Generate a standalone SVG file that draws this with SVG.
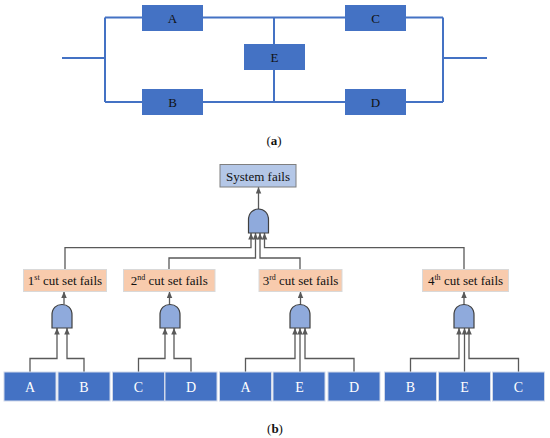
<svg xmlns="http://www.w3.org/2000/svg" width="550" height="438" viewBox="0 0 550 438">
<style>
text{font-family:"Liberation Serif","Times New Roman",serif;}
.blk{fill:#4472C4;}
.wire{fill:none;stroke:#4472C4;stroke-width:2;}
.lbl{font-size:13px;fill:#111;text-anchor:middle;}
.cut{fill:#F8CBAD;stroke:#D9D9D9;stroke-width:1;}
.sys{fill:#B4C7E7;stroke:#7F7F7F;stroke-width:1;}
.gate{fill:#8FAADC;stroke:#404040;stroke-width:1.2;}
.ev{fill:#4472C4;stroke:#D0D8EA;stroke-width:1;}
.evt{font-size:14px;fill:#fff;text-anchor:middle;}
.ln{fill:none;stroke:#595959;stroke-width:1.3;}
.arr{marker-end:url(#ah);}
.cap{font-size:13px;fill:#111;text-anchor:middle;}
</style>
<defs>
<marker id="ah" markerWidth="7" markerHeight="6" refX="6.5" refY="2.75" orient="auto" markerUnits="userSpaceOnUse">
<path d="M0,0 L6.5,2.75 L0,5.5 z" fill="#595959"/>
</marker>
</defs>

<g id="network-a">
<g id="wires-a">
<path class="wire" d="M62,58 H105 M105,17.5 V102 M105,17.5 H142 M203,17.5 H345 M406,17.5 H443 M105,102 H142 M203,102 H345 M406,102 H443 M274,17.5 V44 M274,70 V102 M443,17.5 V102 M443,58 H487"/>
</g>
<g id="a-A"><rect class="blk" x="142" y="5" width="61" height="26"/><text class="lbl" x="172.5" y="22.5">A</text></g>
<g id="a-C"><rect class="blk" x="345" y="5" width="61" height="26"/><text class="lbl" x="375.5" y="22.5">C</text></g>
<g id="a-E"><rect class="blk" x="244" y="44" width="61" height="26"/><text class="lbl" x="274.5" y="61.5">E</text></g>
<g id="a-B"><rect class="blk" x="142" y="89" width="61" height="26"/><text class="lbl" x="172.5" y="106.5">B</text></g>
<g id="a-D"><rect class="blk" x="345" y="89" width="61" height="26"/><text class="lbl" x="375.5" y="106.5">D</text></g>
<text class="cap" x="274" y="144.5">(<tspan font-weight="bold">a</tspan>)</text>
</g>

<g id="connectors">
<path class="ln arr" d="M258.5,209 V187"/>
<path class="ln arr" d="M65,269.5 V247.7 H251 V233"/>
<path class="ln arr" d="M169,269.5 V258 H255.5 V233"/>
<path class="ln arr" d="M300,269.5 V258 H260 V233"/>
<path class="ln arr" d="M464,269.5 V247.7 H264.5 V233"/>

<path class="ln arr" d="M64,304.5 V291.5"/>
<path class="ln arr" d="M169.5,304.5 V291.5"/>
<path class="ln arr" d="M300.5,304.5 V291.5"/>
<path class="ln arr" d="M464,304.5 V291.5"/>

<path class="ln arr" d="M30,372 V358.5 H57 V328"/>
<path class="ln arr" d="M84,372 V358.5 H67 V328"/>
<path class="ln arr" d="M138.5,372 V358.5 H165 V328"/>
<path class="ln arr" d="M191,372 V358.5 H174 V328"/>
<path class="ln arr" d="M245.5,372 V358.5 H295 V328"/>
<path class="ln arr" d="M300,372 V328"/>
<path class="ln arr" d="M354,372 V358.5 H305 V328"/>
<path class="ln arr" d="M410.5,372 V358.5 H459 V328"/>
<path class="ln arr" d="M464.5,372 V328"/>
<path class="ln arr" d="M518.5,372 V358.5 H469 V328"/>
</g>

<g id="system-fails"><rect class="sys" x="220" y="164.5" width="76" height="22.5"/><text class="lbl" x="258" y="180.5">System fails</text></g>
<g id="gate-top"><path class="gate" d="M248.5,233 V220 C248.5,213 253,209 258.5,209 C264,209 268.5,213 268.5,220 V233 Z"/></g>

<g id="cut1"><rect class="cut" x="23.5" y="269.5" width="83" height="22"/><text class="lbl" x="65" y="285">1<tspan font-size="8" dy="-5">st</tspan><tspan dy="5"> cut set fails</tspan></text></g>
<g id="cut2"><rect class="cut" x="123.5" y="269.5" width="91.5" height="22"/><text class="lbl" x="169.3" y="285">2<tspan font-size="8" dy="-5">nd</tspan><tspan dy="5"> cut set fails</tspan></text></g>
<g id="cut3"><rect class="cut" x="259" y="269.5" width="83" height="22"/><text class="lbl" x="300.5" y="285">3<tspan font-size="8" dy="-5">rd</tspan><tspan dy="5"> cut set fails</tspan></text></g>
<g id="cut4"><rect class="cut" x="422.5" y="269.5" width="86" height="22"/><text class="lbl" x="465.5" y="285">4<tspan font-size="8" dy="-5">th</tspan><tspan dy="5"> cut set fails</tspan></text></g>

<g id="gate1"><path class="gate" d="M52,328 V315 C52,308 56.5,304.5 62,304.5 C67.5,304.5 72,308 72,315 V328 Z"/></g>
<g id="gate2"><path class="gate" d="M160,328 V315 C160,308 164.5,304.5 170,304.5 C175.5,304.5 180,308 180,315 V328 Z"/></g>
<g id="gate3"><path class="gate" d="M290,328 V315 C290,308 294.5,304.5 300,304.5 C305.5,304.5 310,308 310,315 V328 Z"/></g>
<g id="gate4"><path class="gate" d="M454,328 V315 C454,308 458.5,304.5 464,304.5 C469.5,304.5 474,308 474,315 V328 Z"/></g>

<g id="ev1"><rect class="ev" x="4" y="372" width="52" height="29"/><text class="evt" x="30" y="392">A</text></g>
<g id="ev2"><rect class="ev" x="58" y="372" width="52" height="29"/><text class="evt" x="84" y="392">B</text></g>
<g id="ev3"><rect class="ev" x="112.5" y="372" width="52" height="29"/><text class="evt" x="138.5" y="392">C</text></g>
<g id="ev4"><rect class="ev" x="165" y="372" width="52" height="29"/><text class="evt" x="191" y="392">D</text></g>
<g id="ev5"><rect class="ev" x="219.5" y="372" width="52" height="29"/><text class="evt" x="245.5" y="392">A</text></g>
<g id="ev6"><rect class="ev" x="273" y="372" width="52" height="29"/><text class="evt" x="299.5" y="392">E</text></g>
<g id="ev7"><rect class="ev" x="328" y="372" width="52" height="29"/><text class="evt" x="354" y="392">D</text></g>
<g id="ev8"><rect class="ev" x="384.5" y="372" width="52" height="29"/><text class="evt" x="410.5" y="392">B</text></g>
<g id="ev9"><rect class="ev" x="438.5" y="372" width="52" height="29"/><text class="evt" x="464.5" y="392">E</text></g>
<g id="ev10"><rect class="ev" x="492.5" y="372" width="52" height="29"/><text class="evt" x="518.5" y="392">C</text></g>

<text class="cap" x="275" y="432.5">(<tspan font-weight="bold">b</tspan>)</text>
</svg>
